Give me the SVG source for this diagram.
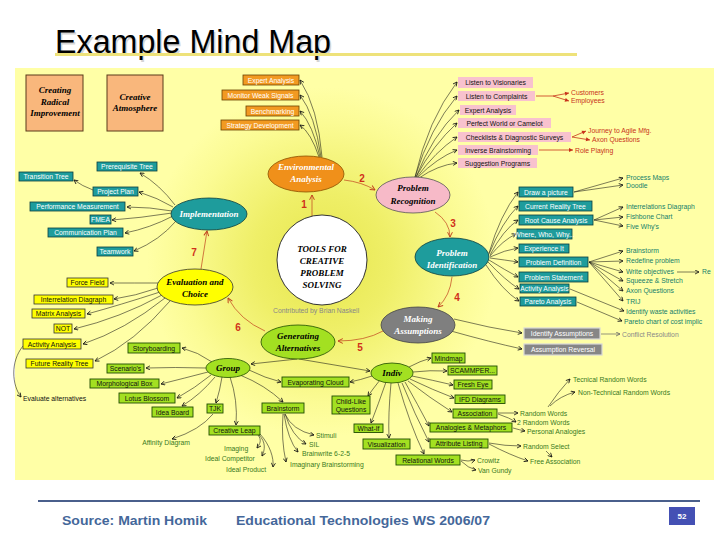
<svg xmlns="http://www.w3.org/2000/svg" width="728" height="546" viewBox="0 0 728 546">
<defs>
<radialGradient id="glow" gradientUnits="userSpaceOnUse" cx="322" cy="262" r="175">
<stop offset="0" stop-color="#E6E64C"/>
<stop offset="0.4" stop-color="#EFEF68"/>
<stop offset="0.8" stop-color="#FBFB94"/>
<stop offset="1" stop-color="#FFFFA6"/>
</radialGradient>
<marker id="a" viewBox="0 0 10 10" refX="9" refY="5" markerUnits="userSpaceOnUse" markerWidth="5" markerHeight="5" orient="auto"><path d="M1,1 L9,5 L1,9" fill="none" stroke="#111" stroke-width="1.6"/></marker>
<marker id="r" viewBox="0 0 10 10" refX="9" refY="5" markerUnits="userSpaceOnUse" markerWidth="6" markerHeight="6" orient="auto"><path d="M1,1 L9,5 L1,9" fill="none" stroke="#C0401E" stroke-width="1.6"/></marker>
<marker id="o" viewBox="0 0 10 10" refX="9" refY="5" markerUnits="userSpaceOnUse" markerWidth="5" markerHeight="5" orient="auto"><path d="M1,1 L9,5 L1,9 Z" fill="#C8321A"/></marker>
<marker id="g" viewBox="0 0 10 10" refX="9" refY="5" markerUnits="userSpaceOnUse" markerWidth="5" markerHeight="5" orient="auto"><path d="M1,1 L9,5 L1,9" fill="none" stroke="#666" stroke-width="1.6"/></marker>
</defs>
<style>
.t{font-family:"Liberation Sans",Arial,sans-serif;font-size:6.8px}
.c{text-anchor:middle}
.w{fill:#fff}
.k{fill:#111}
.ob{fill:#F29A22;stroke:#6b4300;stroke-width:.8}
.pb{fill:#F8C2CE}
.tb{fill:#1E9C9C;stroke:#0b3f3f;stroke-width:.8}
.gb{fill:#868686;stroke:#d8d8d8;stroke-width:1.2}
.lb{fill:#A3E021;stroke:#1f4d00;stroke-width:.9}
.yb{fill:#FFFF00;stroke:#333;stroke-width:.8}
.sb{fill:#F9B77C;stroke:#5a3a1a;stroke-width:1}
.e{font-family:"Liberation Serif","Times New Roman",serif;font-weight:bold;font-style:italic;font-size:9px;text-anchor:middle}
.ln{fill:none;stroke:#111;stroke-width:.55;marker-end:url(#a)}
.rd{fill:none;stroke:#C0401E;stroke-width:.7;marker-end:url(#r)}
.ol{fill:none;stroke:#C8321A;stroke-width:.8;marker-end:url(#o)}
.gl{fill:none;stroke:#666;stroke-width:.7;marker-end:url(#g)}
.lo{fill:#C8321A}
.lt{fill:#16806A}
.lg{fill:#3A7A22}
.num{font-family:"Liberation Sans",Arial,sans-serif;font-size:10px;font-weight:bold;fill:#D0301A;text-anchor:middle}
.ft{font-family:"Liberation Sans",Arial,sans-serif;font-weight:bold;fill:#44679A}
</style>
<rect width="728" height="546" fill="#fff"/>
<g id="title">
<text x="55" y="53" font-family="'Liberation Sans',Arial,sans-serif" font-size="33" fill="#888" opacity="0.35" textLength="276" lengthAdjust="spacingAndGlyphs" transform="translate(1.5,1.5)">Example Mind Map</text>
<text x="55" y="53" font-family="'Liberation Sans',Arial,sans-serif" font-size="33" fill="#000" textLength="276" lengthAdjust="spacingAndGlyphs">Example Mind Map</text>
<line x1="55" y1="54.5" x2="577" y2="54.5" stroke="#EEE27A" stroke-width="3"/>
</g>
<rect id="panel" x="15" y="68" width="699" height="412" fill="url(#glow)"/>

<g id="connectors">
<path class="rd" d="M312,216 L312,195"/>
<path class="rd" d="M344,180 Q362,182 375,190"/>
<path class="rd" d="M435,212 Q450,222 450,237"/>
<path class="rd" d="M452,277 Q450,296 438,307"/>
<path class="rd" d="M383,331 Q365,341 338,341"/>
<path class="rd" d="M265,331 Q240,320 228,298"/>
<path class="rd" d="M201,269 Q204,250 207,231"/>
<path class="ln" d="M322,157 Q318,108 300,80"/>
<path class="ln" d="M321,157 Q315,115 300,95"/>
<path class="ln" d="M320,157 Q313,125 300,111"/>
<path class="ln" d="M319,157 Q311,133 300,125"/>
<path class="ln" d="M415,177 Q428,120 457,82"/>
<path class="ln" d="M415,177 Q430,128 457,96"/>
<path class="ln" d="M416,177 Q432,136 459,110"/>
<path class="ln" d="M416,177 Q433,145 457,123"/>
<path class="ln" d="M417,177 Q435,152 457,137"/>
<path class="ln" d="M418,177 Q437,158 457,150"/>
<path class="ln" d="M419,178 Q438,165 457,163"/>
<path class="ol" d="M536,96 L553,96 L569,93"/>
<path class="ol" d="M553,96 L569,101"/>
<path class="ol" d="M572,137 L586,131"/>
<path class="ol" d="M572,137 L590,140"/>
<path class="ol" d="M539,150 L573,150"/>
<path class="ln" d="M489,253 Q500,215 518,192"/>
<path class="ln" d="M489,254 Q502,222 518,206"/>
<path class="ln" d="M490,255 Q503,230 518,220"/>
<path class="ln" d="M490,256 Q503,240 516,234"/>
<path class="ln" d="M490,257 Q505,250 518,248"/>
<path class="ln" d="M490,258 Q505,260 518,262"/>
<path class="ln" d="M489,260 Q505,270 518,277"/>
<path class="ln" d="M488,262 Q505,280 519,289"/>
<path class="ln" d="M486,265 Q502,290 519,301"/>
<path class="ln" d="M574,192 L623,178"/>
<path class="ln" d="M574,192 L623,185"/>
<path class="ln" d="M594,220 L623,207"/>
<path class="ln" d="M594,220 L623,217"/>
<path class="ln" d="M594,220 L623,226"/>
<path class="ln" d="M589,262 L623,251"/>
<path class="ln" d="M589,262 L623,261"/>
<path class="ln" d="M589,262 L623,272"/>
<path class="ln" d="M589,262 L623,281"/>
<path class="ln" d="M589,262 L623,291"/>
<path class="ln" d="M589,262 L623,301"/>
<path class="ln" d="M570,289 L624,311"/>
<path class="ln" d="M577,302 L622,321"/>
<path class="ln" d="M677,272 L699,272"/>
<path class="ln" d="M454,319 Q490,328 522,333"/>
<path class="ln" d="M451,331 Q490,342 522,349"/>
<path class="gl" d="M601,334 L620,334"/>
<path class="ln" d="M175,205 Q160,185 140,173"/>
<path class="ln" d="M173,207 Q158,198 139,192"/>
<path class="ln" d="M172,211 Q150,207 127,207"/>
<path class="ln" d="M172,213 Q140,218 112,220"/>
<path class="ln" d="M173,216 Q150,228 125,233"/>
<path class="ln" d="M176,221 Q160,240 134,251"/>
<path class="ln" d="M93,190 Q82,186 74,180"/>
<path class="ln" d="M159,283 Q135,283 110,283"/>
<path class="ln" d="M158,288 Q135,296 114,299"/>
<path class="ln" d="M160,292 Q120,305 87,314"/>
<path class="ln" d="M162,295 Q120,318 74,329"/>
<path class="ln" d="M165,298 Q125,330 83,344"/>
<path class="ln" d="M170,301 Q135,342 95,361"/>
<path class="ln" d="M23,346 C10,362 12,385 21,397"/>
<path class="ln" d="M297,359 L251,364"/>
<path class="ln" d="M299,359 L370,371"/>
<path class="ln" d="M212,362 Q198,352 182,348"/>
<path class="ln" d="M206,368 Q175,367 146,368"/>
<path class="ln" d="M208,372 Q185,378 161,384"/>
<path class="ln" d="M211,375 Q195,388 177,398"/>
<path class="ln" d="M215,377 Q200,395 182,406"/>
<path class="ln" d="M222,377 Q220,390 216,403"/>
<path class="ln" d="M230,377 Q238,400 236,425"/>
<path class="ln" d="M240,375 Q265,385 283,402"/>
<path class="ln" d="M249,370 Q265,378 281,382"/>
<path class="ln" d="M213,414 Q200,430 172,439"/>
<path class="ln" d="M258,435 C262,440 260,444 257,448"/>
<path class="ln" d="M259,435 C266,442 265,450 262,456"/>
<path class="ln" d="M260,434 C270,445 274,458 273,467"/>
<path class="ln" d="M285,414 Q292,430 314,435"/>
<path class="ln" d="M285,414 Q292,436 306,444"/>
<path class="ln" d="M284,414 Q288,440 298,452"/>
<path class="ln" d="M283,414 Q281,440 286,462"/>
<path class="ln" d="M372,376 Q360,380 350,382"/>
<path class="ln" d="M409,367 Q420,361 431,358"/>
<path class="ln" d="M413,372 Q430,370 447,371"/>
<path class="ln" d="M412,376 Q432,380 453,385"/>
<path class="ln" d="M410,379 Q433,390 454,398"/>
<path class="ln" d="M408,381 Q430,398 452,412"/>
<path class="ln" d="M405,382 Q418,405 429,426"/>
<path class="ln" d="M402,383 Q415,415 429,442"/>
<path class="ln" d="M398,383 Q410,425 424,454"/>
<path class="ln" d="M391,383 Q388,415 389,438"/>
<path class="ln" d="M386,382 Q378,405 371,423"/>
<path class="ln" d="M380,380 Q372,390 368,396"/>
<path class="ln" d="M498,413 L518,413"/>
<path class="ln" d="M498,414 Q510,418 516,422"/>
<path class="ln" d="M513,428 Q520,430 525,431"/>
<path class="ln" d="M489,443 Q505,446 521,446"/>
<path class="ln" d="M489,444 Q510,455 528,461"/>
<path class="ln" d="M461,460 Q468,462 475,460"/>
<path class="ln" d="M461,461 Q468,468 476,470"/>
<path class="ln" d="M548,407 Q558,392 570,379"/>
<path class="ln" d="M550,406 Q560,396 575,392"/>
<path class="ln" d="M546,451 L552,457"/>
</g>

<g id="creating-radical-improvement"><rect class="sb" x="26" y="75" width="57" height="56"/><text class="e" x="55" y="93" font-size="8.5">Creating</text><text class="e" x="55" y="105" font-size="8.5">Radical</text><text class="e" x="55" y="116" font-size="8.5">Improvement</text></g>
<g id="creative-atmosphere"><rect class="sb" x="107" y="75" width="56" height="56"/><text class="e" x="135" y="100" font-size="8.5">Creative</text><text class="e" x="135" y="111" font-size="8.5">Atmosphere</text></g>

<g id="center"><circle cx="322" cy="260" r="45" fill="#fff" stroke="#333" stroke-width="1"/>
<text class="e" x="322" y="252" font-size="10.5">TOOLS FOR</text><text class="e" x="322" y="264" font-size="10.5">CREATIVE</text><text class="e" x="322" y="276" font-size="10.5">PROBLEM</text><text class="e" x="322" y="288" font-size="10.5">SOLVING</text></g>
<text class="t" x="273" y="313" fill="#888" font-size="7">Contributed by Brian Naskell</text>

<g id="numbers"><text class="num" x="304" y="208">1</text><text class="num" x="362" y="182">2</text><text class="num" x="453" y="227">3</text><text class="num" x="457" y="301">4</text><text class="num" x="360" y="351">5</text><text class="num" x="238" y="331">6</text><text class="num" x="194" y="256">7</text></g>

<g id="environmental-analysis"><ellipse cx="306" cy="174" rx="38" ry="18" fill="#F0901A" stroke="#8a5000" stroke-width=".8"/><text class="e w" x="306" y="170">Environmental</text><text class="e w" x="306" y="182">Analysis</text></g>
<g id="problem-recognition"><ellipse cx="413" cy="195" rx="37" ry="18" fill="#F7BAC8" stroke="#555" stroke-width=".8"/><text class="e" x="413" y="191">Problem</text><text class="e" x="413" y="204">Recognition</text></g>
<g id="problem-identification"><ellipse cx="452" cy="257" rx="37" ry="19" fill="#1E9C9C" stroke="#0b3f3f" stroke-width=".8"/><text class="e w" x="452" y="256">Problem</text><text class="e w" x="452" y="268">Identification</text></g>
<g id="making-assumptions"><ellipse cx="418" cy="325" rx="37" ry="18" fill="#7F7F7F" stroke="#444" stroke-width=".8"/><text class="e w" x="418" y="322">Making</text><text class="e w" x="418" y="334">Assumptions</text></g>
<g id="generating-alternatives"><ellipse cx="298" cy="342" rx="37" ry="17" fill="#A3E021" stroke="#1f4d00" stroke-width=".8"/><text class="e" x="298" y="339">Generating</text><text class="e" x="298" y="351">Alternatives</text></g>
<g id="evaluation-choice"><ellipse cx="195" cy="287" rx="38" ry="18" fill="#FFFF00" stroke="#333" stroke-width=".8"/><text class="e" x="195" y="285">Evaluation and</text><text class="e" x="195" y="297">Choice</text></g>
<g id="implementation"><ellipse cx="209" cy="214" rx="38" ry="16" fill="#1E9C9C" stroke="#0b3f3f" stroke-width=".8"/><text class="e w" x="209" y="217">Implementation</text></g>
<g id="group"><ellipse cx="228" cy="368" rx="22" ry="9.5" fill="#A3E021" stroke="#1f4d00" stroke-width=".8"/><text class="e" x="228" y="371">Group</text></g>
<g id="indiv"><ellipse cx="392" cy="373" rx="21" ry="10" fill="#A3E021" stroke="#1f4d00" stroke-width=".8"/><text class="e" x="392" y="376">Indiv</text></g>

<g id="ea-expert"><rect class="ob" x="243" y="75" width="56" height="10"/><text class="t c w" x="271" y="82.5">Expert Analysis</text></g>
<g id="ea-monitor"><rect class="ob" x="222" y="90" width="77" height="10"/><text class="t c w" x="260.5" y="97.5">Monitor Weak Signals</text></g>
<g id="ea-bench"><rect class="ob" x="246" y="106" width="53" height="10"/><text class="t c w" x="272.5" y="113.5">Benchmarking</text></g>
<g id="ea-strategy"><rect class="ob" x="221" y="120" width="78" height="10"/><text class="t c w" x="260" y="127.5">Strategy Development</text></g>

<g id="pr-visionaries"><rect class="pb" x="458" y="77" width="75" height="11"/><text class="t c k" x="495.5" y="85">Listen to Visionaries</text></g>
<g id="pr-complaints"><rect class="pb" x="458" y="91" width="77" height="10"/><text class="t c k" x="496.5" y="98.5">Listen to Complaints</text></g>
<g id="pr-expert"><rect class="pb" x="460" y="105" width="56" height="10"/><text class="t c k" x="488" y="112.5">Expert Analysis</text></g>
<g id="pr-perfect"><rect class="pb" x="458" y="118" width="93" height="10"/><text class="t c k" x="504.5" y="125.5">Perfect World or Camelot</text></g>
<g id="pr-checklists"><rect class="pb" x="458" y="132" width="113" height="10"/><text class="t c k" x="514.5" y="139.5">Checklists &amp; Diagnostic Surveys</text></g>
<g id="pr-inverse"><rect class="pb" x="458" y="145" width="80" height="10"/><text class="t c k" x="498" y="152.5">Inverse Brainstorming</text></g>
<g id="pr-suggestion"><rect class="pb" x="458" y="158" width="79" height="10"/><text class="t c k" x="497.5" y="165.5">Suggestion Programs</text></g>
<g id="pr-leaves" class="t lo"><text x="571" y="95">Customers</text><text x="571" y="103">Employees</text><text x="588" y="133">Journey to Agile Mfg.</text><text x="592" y="142">Axon Questions</text><text x="575" y="153">Role Playing</text></g>

<g id="pi-draw"><rect class="tb" x="519" y="187" width="54" height="10"/><text class="t c w" x="546" y="194.5">Draw a picture</text></g>
<g id="pi-crt"><rect class="tb" x="519" y="201" width="73" height="10"/><text class="t c w" x="555.5" y="208.5">Current Reality Tree</text></g>
<g id="pi-rca"><rect class="tb" x="519" y="215" width="74" height="10"/><text class="t c w" x="556" y="222.5">Root Cause Analysis</text></g>
<g id="pi-where"><rect class="tb" x="517" y="229" width="55" height="10"/><text class="t c w" x="544.5" y="236.5">Where, Who, Why...</text></g>
<g id="pi-experience"><rect class="tb" x="519" y="244" width="50" height="9"/><text class="t c w" x="544" y="251">Experience It</text></g>
<g id="pi-definition"><rect class="tb" x="519" y="257" width="69" height="10"/><text class="t c w" x="553.5" y="264.5">Problem Definition</text></g>
<g id="pi-statement"><rect class="tb" x="519" y="272" width="69" height="10"/><text class="t c w" x="553.5" y="279.5">Problem Statement</text></g>
<g id="pi-activity"><rect class="tb" x="520" y="284" width="49" height="9"/><text class="t c w" x="544.5" y="291">Activity Analysis</text></g>
<g id="pi-pareto"><rect class="tb" x="520" y="297" width="56" height="9"/><text class="t c w" x="548" y="304">Pareto Analysis</text></g>
<g id="pi-leaves" class="t lt"><text x="626" y="180">Process Maps</text><text x="626" y="188">Doodle</text><text x="626" y="209">Interrelations Diagraph</text><text x="626" y="219">Fishbone Chart</text><text x="626" y="229">Five Why's</text><text x="626" y="253">Brainstorm</text><text x="626" y="263">Redefine problem</text><text x="626" y="274">Write objectives</text><text x="702" y="274">Re</text><text x="626" y="283">Squeeze &amp; Stretch</text><text x="626" y="293">Axon Questions</text><text x="626" y="304">TRIJ</text><text x="626" y="314">Identify waste activities</text><text x="624" y="324">Pareto chart of cost implic</text></g>

<g id="ma-identify"><rect class="gb" x="524" y="328" width="76" height="11"/><text class="t c w" x="562" y="336">Identify Assumptions</text></g>
<g id="ma-reversal"><rect class="gb" x="524" y="344" width="78" height="11"/><text class="t c w" x="563" y="352">Assumption Reversal</text></g>
<text class="t" x="622" y="337" fill="#888">Conflict Resolution</text>

<g id="im-prereq"><rect class="tb" x="97" y="162" width="60" height="9"/><text class="t c w" x="127" y="169">Prerequisite Tree</text></g>
<g id="im-transition"><rect class="tb" x="19" y="172" width="54" height="9"/><text class="t c w" x="46" y="179">Transition Tree</text></g>
<g id="im-project"><rect class="tb" x="93" y="187" width="45" height="9"/><text class="t c w" x="115.5" y="194">Project Plan</text></g>
<g id="im-performance"><rect class="tb" x="30" y="202" width="95" height="9"/><text class="t c w" x="77.5" y="209">Performance Measurement</text></g>
<g id="im-fmea"><rect class="tb" x="90" y="215" width="21" height="9"/><text class="t c w" x="100.5" y="222">FMEA</text></g>
<g id="im-communication"><rect class="tb" x="48" y="228" width="75" height="9"/><text class="t c w" x="85.5" y="235">Communication Plan</text></g>
<g id="im-teamwork"><rect class="tb" x="97" y="247" width="36" height="9"/><text class="t c w" x="115" y="254">Teamwork</text></g>

<g id="ev-force"><rect class="yb" x="67" y="278" width="41" height="9"/><text class="t c k" x="87.5" y="285">Force Field</text></g>
<g id="ev-interrelation"><rect class="yb" x="34" y="295" width="79" height="9"/><text class="t c k" x="73.5" y="302">Interrelation Diagraph</text></g>
<g id="ev-matrix"><rect class="yb" x="32" y="309" width="53" height="9"/><text class="t c k" x="58.5" y="316">Matrix Analysis</text></g>
<g id="ev-not"><rect class="yb" x="54" y="324" width="18" height="9"/><text class="t c k" x="63" y="331">NOT</text></g>
<g id="ev-activity"><rect class="yb" x="23" y="339" width="58" height="10"/><text class="t c k" x="52" y="346.5">Activity Analysis</text></g>
<g id="ev-future"><rect class="yb" x="26" y="359" width="67" height="9"/><text class="t c k" x="59.5" y="366">Future Reality Tree</text></g>
<text class="t k" x="23" y="401">Evaluate alternatives</text>

<g id="gr-story"><rect class="lb" x="128" y="343" width="52" height="10"/><text class="t c k" x="154" y="350.5">Storyboarding</text></g>
<g id="gr-scen"><rect class="lb" x="107" y="364" width="37" height="9"/><text class="t c k" x="125.5" y="371">Scenario's</text></g>
<g id="gr-morph"><rect class="lb" x="90" y="379" width="69" height="9"/><text class="t c k" x="124.5" y="386">Morphological Box</text></g>
<g id="gr-lotus"><rect class="lb" x="119" y="393" width="56" height="10"/><text class="t c k" x="147" y="400.5">Lotus Blossom</text></g>
<g id="gr-idea"><rect class="lb" x="152" y="407" width="41" height="10"/><text class="t c k" x="172.5" y="414.5">Idea Board</text></g>
<g id="gr-tjk"><rect class="lb" x="207" y="404" width="16" height="9"/><text class="t c k" x="215" y="411">TJK</text></g>
<g id="gr-leap"><rect class="lb" x="209" y="426" width="51" height="9"/><text class="t c k" x="234.5" y="433">Creative Leap</text></g>
<g id="gr-brainstorm"><rect class="lb" x="262" y="403" width="42" height="10"/><text class="t c k" x="283" y="410.5">Brainstorm</text></g>
<g id="gr-evap"><rect class="lb" x="282" y="377" width="67" height="10"/><text class="t c k" x="315.5" y="384.5">Evaporating Cloud</text></g>
<g id="gr-leaves" class="t lg"><text x="190" y="445" text-anchor="end">Affinity Diagram</text><text x="224" y="451">Imaging</text><text x="205" y="461">Ideal Competitor</text><text x="226" y="472">Ideal Product</text><text x="316" y="438">Stimuli</text><text x="309" y="447">SIL</text><text x="302" y="456">Brainwrite 6-2-5</text><text x="290" y="467">Imaginary Brainstorming</text></g>

<g id="in-child"><rect class="lb" x="332" y="396" width="38" height="18"/><text class="t c k" x="351" y="403.5">Child-Like</text><text class="t c k" x="351" y="411.5">Questions</text></g>
<g id="in-whatif"><rect class="lb" x="354" y="424" width="29" height="8.5"/><text class="t c k" x="368.5" y="430.5">What-If</text></g>
<g id="in-visual"><rect class="lb" x="363" y="439" width="47" height="10"/><text class="t c k" x="386.5" y="446.5">Visualization</text></g>
<g id="in-relational"><rect class="lb" x="396" y="455" width="64" height="10"/><text class="t c k" x="428" y="462.5">Relational Words</text></g>
<g id="in-attribute"><rect class="lb" x="430" y="439" width="58" height="9"/><text class="t c k" x="459" y="446">Attribute Listing</text></g>
<g id="in-analogies"><rect class="lb" x="430" y="423" width="82" height="9"/><text class="t c k" x="471" y="430">Analogies &amp; Metaphors</text></g>
<g id="in-association"><rect class="lb" x="453" y="409" width="44" height="9"/><text class="t c k" x="475" y="416">Association</text></g>
<g id="in-ifd"><rect class="lb" x="455" y="395" width="50" height="8.5"/><text class="t c k" x="480" y="401.5">IFD Diagrams</text></g>
<g id="in-fresh"><rect class="lb" x="454" y="380" width="38" height="9"/><text class="t c k" x="473" y="387">Fresh Eye</text></g>
<g id="in-scammper"><rect class="lb" x="448" y="366" width="49" height="9"/><text class="t c k" x="472.5" y="373">SCAMMPER...</text></g>
<g id="in-mindmap"><rect class="lb" x="432" y="353" width="33" height="10"/><text class="t c k" x="448.5" y="360.5">Mindmap</text></g>
<g id="in-leaves" class="t lg"><text x="573" y="382">Tecnical Random Words</text><text x="578" y="395">Non-Technical Random Words</text><text x="520" y="416">Random Words</text><text x="517" y="425">2 Random Words</text><text x="527" y="434">Personal Analogies</text><text x="523" y="449">Random Select</text><text x="530" y="464">Free Association</text><text x="477" y="463">Crowitz</text><text x="478" y="473">Van Gundy</text></g>

<g id="footer">
<line x1="38" y1="501" x2="700" y2="501" stroke="#4A5F8C" stroke-width="2"/>
<text class="ft" x="62" y="525" font-size="12.5" textLength="145" lengthAdjust="spacingAndGlyphs">Source: Martin Homik</text>
<text class="ft" x="236" y="525" font-size="12.5" textLength="254" lengthAdjust="spacingAndGlyphs">Educational Technologies WS 2006/07</text>
<rect x="669" y="507" width="26" height="18" fill="#4450B4"/>
<text x="682" y="519" font-family="'Liberation Sans',Arial,sans-serif" font-size="8" font-weight="bold" fill="#fff" text-anchor="middle">52</text>
</g>
</svg>
